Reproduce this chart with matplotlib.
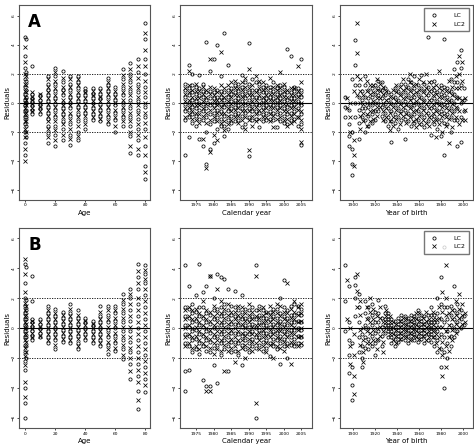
import numpy as np
import matplotlib.pyplot as plt

def vals(s):
    return [float(v) for v in s.split()]

ages = [0, 1, 5, 10, 15, 20, 25, 30, 35, 40, 45, 50, 55, 60, 65, 70, 75, 80]

# panel A, residuals by age
age_A_lc = ["-3.6 -2.8 -2.0 -1.5 -1.0 -0.6 -0.2 0.2 0.6 1.1 1.6 2.4 3.2 4.5",
            "-2.4 -1.6 -1.0 -0.5 0.0 0.4 0.9 1.5 2.1 4.4",
            "-0.8 -0.5 -0.2 0.1 0.3 0.6 2.5",
            "-0.8 -0.4 -0.1 0.2 0.5",
            "-2.8 -2.1 -1.6 -1.1 -0.7 -0.3 0.1 0.5 0.9 1.3 1.8",
            "-3.0 -2.2 -1.6 -1.0 -0.5 -0.1 0.3 0.8 1.3 1.8 2.4",
            "-2.6 -1.8 -1.3 -0.8 -0.4 0.0 0.5 0.9 1.4 2.2",
            "-2.9 -2.2 -1.5 -0.9 -0.4 0.0 0.4 0.9 1.3 1.8",
            "-2.6 -2.0 -1.3 -0.8 -0.3 0.1 0.5 1.0 1.4 1.8",
            "-1.8 -1.2 -0.7 -0.3 0.1 0.5 0.8 1.0",
            "-1.2 -0.8 -0.4 0.0 0.3 0.6 1.0",
            "-1.3 -0.9 -0.5 -0.1 0.3 0.6 1.0",
            "-1.5 -1.0 -0.5 -0.1 0.4 0.8 1.2 1.7",
            "-2.0 -1.2 -0.7 -0.2 0.2 0.6 1.1",
            "-1.6 -1.0 -0.5 0.0 0.5 1.0 1.6 2.3",
            "-3.5 -2.3 -1.6 -1.0 -0.4 0.2 0.8 1.4 2.0 2.7",
            "-3.6 -2.6 -1.8 -1.1 -0.5 0.1 0.7 1.3 2.1 3.0",
            "-5.3 -4.4 -3.0 -1.8 -1.0 -0.3 0.4 1.1 2.0 3.0 4.4 5.5"]
age_A_lc2 = ["-4.0 -3.2 -2.4 -1.8 -1.3 -0.8 -0.4 0.0 0.4 0.8 1.3 2.0 2.8 3.8",
             "-2.0 -1.3 -0.7 -0.2 0.2 0.7 1.2 1.8",
             "-0.6 -0.4 -0.1 0.2 0.4 0.7",
             "-0.6 -0.3 0.0 0.3 0.6",
             "-2.4 -1.8 -1.3 -0.9 -0.5 -0.1 0.3 0.7 1.1 1.6",
             "-2.6 -1.9 -1.3 -0.8 -0.3 0.1 0.5 1.0 1.5 2.1",
             "-2.2 -1.5 -1.0 -0.6 -0.2 0.2 0.7 1.1 1.7",
             "-2.5 -1.8 -1.2 -0.7 -0.2 0.2 0.6 1.1 1.6",
             "-2.3 -1.6 -1.0 -0.5 -0.1 0.3 0.7 1.2 1.6",
             "-1.5 -0.9 -0.5 -0.1 0.3 0.7",
             "-1.0 -0.6 -0.2 0.1 0.5 0.8",
             "-1.1 -0.7 -0.3 0.1 0.4 0.8",
             "-1.3 -0.8 -0.3 0.1 0.6 1.0 1.4",
             "-1.6 -1.0 -0.5 0.0 0.4 0.8",
             "-1.3 -0.8 -0.3 0.2 0.7 1.3 1.9",
             "-3.0 -2.0 -1.3 -0.7 -0.1 0.5 1.1 1.7 2.3",
             "-3.2 -2.2 -1.5 -0.8 -0.2 0.4 1.0 1.7 2.5",
             "-4.8 -3.6 -2.4 -1.4 -0.7 0.0 0.7 1.5 2.5 3.6 4.8"]

# panel B, residuals by age
age_B_lc = ["-6.0 -5.0 -4.0 -2.8 -2.2 -1.6 -1.1 -0.6 -0.2 0.2 0.6 1.0 1.5 2.0 3.0 4.3",
            "-2.0 -1.2 -0.6 0.0 0.6 1.2 1.9 4.1",
            "-0.8 -0.5 -0.2 0.1 0.4 0.6 1.8 3.5",
            "-0.6 -0.3 0.0 0.3 0.6",
            "-1.0 -0.6 -0.2 0.2 0.6 1.0 1.5",
            "-1.4 -0.8 -0.4 0.0 0.4 0.8 1.3",
            "-0.9 -0.5 -0.1 0.3 0.7 1.1",
            "-1.0 -0.6 -0.2 0.2 0.6 1.0 1.6",
            "-1.4 -1.0 -0.5 -0.1 0.3 0.7 1.2",
            "-0.8 -0.4 0.0 0.4 0.7",
            "-1.0 -0.6 -0.2 0.2 0.5",
            "-1.2 -0.8 -0.4 0.0 0.4 0.8 1.5",
            "-1.7 -1.1 -0.6 -0.1 0.4 0.9 1.5",
            "-1.5 -1.0 -0.5 0.0 0.5 1.0 1.5",
            "-2.1 -1.4 -0.8 -0.2 0.4 1.0 1.6 2.3",
            "-3.4 -2.4 -1.6 -0.9 -0.2 0.5 1.2 2.0 2.6",
            "-5.4 -4.2 -3.2 -2.4 -1.6 -0.8 0.0 0.8 1.6 2.6 3.4 4.3",
            "-4.3 -3.4 -2.6 -1.8 -1.0 -0.2 0.6 1.4 2.2 3.0 3.6 4.2"]
age_B_lc2 = ["-4.6 -3.6 -2.5 -1.9 -1.3 -0.8 -0.4 0.0 0.4 0.8 1.2 1.7 2.4 3.6 4.6",
             "-1.6 -0.9 -0.3 0.3 0.9 1.5",
             "-0.6 -0.3 0.0 0.3 0.5",
             "-0.5 -0.2 0.1 0.4",
             "-0.8 -0.4 0.0 0.4 0.8 1.2",
             "-1.1 -0.6 -0.2 0.2 0.6 1.0",
             "-0.7 -0.3 0.1 0.5 0.9",
             "-0.8 -0.4 0.0 0.4 0.8 1.3",
             "-1.2 -0.7 -0.3 0.1 0.5 0.9",
             "-0.6 -0.2 0.2 0.5",
             "-0.8 -0.4 0.0 0.3",
             "-1.0 -0.6 -0.2 0.2 0.6 1.1",
             "-1.4 -0.9 -0.4 0.1 0.6 1.2",
             "-1.3 -0.8 -0.3 0.2 0.7 1.2",
             "-1.8 -1.1 -0.5 0.1 0.7 1.3 1.9",
             "-2.9 -2.0 -1.3 -0.6 0.1 0.8 1.6 2.3",
             "-4.8 -3.6 -2.8 -2.0 -1.2 -0.4 0.4 1.2 2.0 3.0 3.8",
             "-3.8 -3.0 -2.2 -1.4 -0.6 0.2 1.0 1.8 2.6 3.3 3.9"]

years = list(range(1972, 2006))

# panel A, residuals by calendar year
year_A_lc = ["-3.6 -1.2 -0.6 -0.1 0.4 0.9 1.3",
             "-2.4 -1.0 -0.5 0.0 0.5 1.0 2.6",
             "-1.4 -0.8 -0.3 0.2 0.7 1.2 2.0",
             "-1.6 -0.9 -0.4 0.1 0.6 1.1",
             "-2.5 -1.1 -0.5 0.0 0.5 1.0 1.9",
             "-3.0 -1.2 -0.6 -0.1 0.4 0.8 1.3",
             "-4.2 -2.0 -1.0 -0.4 0.2 0.7 4.2",
             "-3.2 -1.5 -0.8 -0.2 0.3 0.8 2.2",
             "-2.8 -1.3 -0.7 -0.2 0.3 0.7 3.0",
             "-1.8 -1.0 -0.5 0.0 0.4 0.9 4.0",
             "-1.6 -1.1 -0.6 -0.1 0.4 0.8 1.8",
             "-2.3 -1.6 -0.9 -0.3 0.2 0.7 4.8",
             "-1.8 -1.2 -0.6 -0.1 0.4 0.9 2.6",
             "-1.4 -0.9 -0.4 0.1 0.6 1.0",
             "-1.3 -0.8 -0.3 0.2 0.7 1.2",
             "-1.2 -0.7 -0.2 0.3 0.8 1.3",
             "-1.7 -0.9 -0.4 0.1 0.6 1.1 1.9",
             "-1.5 -0.7 -0.2 0.3 0.8 1.4",
             "-3.7 -1.0 -0.4 0.2 0.7 1.3 4.1",
             "-1.2 -0.6 -0.1 0.4 0.9 1.6",
             "-1.1 -0.6 -0.1 0.4 0.9 1.4",
             "-1.7 -0.7 -0.2 0.3 0.8 1.3",
             "-1.3 -0.8 -0.3 0.2 0.7 1.1",
             "-1.2 -0.7 -0.2 0.3 0.7 1.2",
             "-1.1 -0.6 -0.1 0.4 0.9 1.1",
             "-1.2 -0.7 -0.2 0.3 0.8 1.4",
             "-1.7 -0.8 -0.3 0.2 0.6 1.0",
             "-1.3 -0.7 -0.2 0.3 0.7 1.2",
             "-1.4 -0.9 -0.4 0.1 0.6 1.1",
             "-1.5 -0.8 -0.3 0.2 0.7 3.7",
             "-1.2 -0.7 -0.2 0.3 0.7 3.2",
             "-1.1 -0.6 -0.1 0.3 0.8 1.1",
             "-1.6 -1.0 -0.4 0.1 0.6 1.0",
             "-2.9 -1.5 -0.8 -0.2 0.4 0.9 3.0"]
year_A_lc2 = ["-1.0 -0.4 0.1 0.6 1.0",
              "-0.8 -0.3 0.2 0.7 1.2 2.2",
              "-1.1 -0.6 -0.1 0.4 0.9",
              "-1.2 -0.7 -0.2 0.3 0.8 1.3",
              "-1.4 -0.8 -0.2 0.3 0.8",
              "-2.5 -0.9 -0.4 0.1 0.6 1.1",
              "-4.5 -1.4 -0.7 -0.1 0.4 0.9",
              "-3.4 -1.2 -0.5 0.0 0.6 1.1 3.0",
              "-2.2 -1.0 -0.4 0.1 0.5 1.0",
              "-2.6 -1.3 -0.7 -0.2 0.2 0.7",
              "-1.4 -0.8 -0.3 0.2 0.6 1.2 3.5",
              "-1.9 -1.3 -0.7 -0.1 0.4 1.0",
              "-1.5 -0.9 -0.4 0.1 0.6 1.2",
              "-1.2 -0.6 -0.1 0.4 0.8 1.4",
              "-1.0 -0.5 0.0 0.5 1.0 1.5",
              "-1.4 -0.9 -0.4 0.1 0.5 1.0",
              "-1.2 -0.6 -0.1 0.4 0.9 1.4",
              "-1.8 -1.0 -0.5 0.0 0.5 1.1 1.7",
              "-3.3 -1.2 -0.6 -0.1 0.5 1.0 2.3",
              "-1.6 -0.9 -0.4 0.1 0.6 1.2",
              "-1.3 -0.8 -0.3 0.2 0.7 1.8",
              "-1.1 -0.5 0.0 0.5 1.0 1.5",
              "-1.0 -0.5 0.0 0.4 0.9 1.4",
              "-1.0 -0.4 0.1 0.5 1.0",
              "-1.3 -0.8 -0.3 0.2 0.6 1.7",
              "-1.7 -0.9 -0.4 0.1 0.6 1.1",
              "-1.1 -0.5 0.0 0.4 0.9 1.2",
              "-1.0 -0.4 0.1 0.5 1.0 2.1",
              "-1.2 -0.6 -0.1 0.4 0.8 1.3",
              "-1.6 -1.1 -0.6 -0.1 0.4 0.9",
              "-1.4 -0.9 -0.4 0.1 0.5 1.0",
              "-1.3 -0.8 -0.3 0.1 0.5 1.0",
              "-1.0 -0.5 0.0 0.4 0.8 2.5",
              "-2.7 -1.8 -1.2 -0.6 0.0 0.6 1.4"]

# panel B, residuals by calendar year
year_B_lc = ["-4.2 -2.9 -1.0 -0.4 0.2 0.8 1.4 4.2",
             "-2.8 -1.2 -0.5 0.1 0.7 1.3 2.8",
             "-1.6 -0.8 -0.2 0.4 1.0 1.6",
             "-1.4 -0.7 -0.1 0.5 1.1 2.2",
             "-1.7 -1.0 -0.4 0.2 0.8 1.4 4.3",
             "-3.5 -1.2 -0.5 0.1 0.7 1.4 2.4",
             "-3.9 -1.5 -0.8 -0.2 0.4 1.0 2.8",
             "-3.9 -1.6 -0.9 -0.3 0.3 0.9 3.5",
             "-2.5 -1.3 -0.6 0.0 0.6 1.2 2.0",
             "-3.7 -1.1 -0.5 0.1 0.7 1.3 3.6",
             "-1.8 -1.0 -0.4 0.2 0.8 1.4 3.4",
             "-1.4 -0.8 -0.2 0.4 1.0 1.6 3.3",
             "-2.9 -1.2 -0.6 0.0 0.6 1.2 2.6",
             "-1.6 -0.9 -0.3 0.3 0.9 1.5",
             "-1.5 -0.9 -0.3 0.3 0.8 1.4 2.5",
             "-1.8 -1.0 -0.4 0.2 0.7 1.2",
             "-2.5 -1.1 -0.5 0.1 0.6 1.1 2.2",
             "-1.4 -0.8 -0.3 0.2 0.7 1.3",
             "-1.6 -1.0 -0.4 0.1 0.6 1.2",
             "-1.2 -0.7 -0.2 0.3 0.8 1.4",
             "-6.0 -1.3 -0.6 0.0 0.6 1.2 4.2",
             "-1.1 -0.6 -0.1 0.4 0.9 1.5",
             "-1.5 -0.9 -0.3 0.2 0.7 1.2",
             "-1.3 -0.8 -0.3 0.2 0.7 1.1",
             "-1.9 -1.0 -0.4 0.1 0.6 1.1",
             "-1.2 -0.7 -0.2 0.3 0.8 1.3",
             "-1.4 -0.8 -0.3 0.2 0.7 1.3",
             "-2.4 -1.0 -0.5 0.0 0.5 1.0 2.0",
             "-1.2 -0.7 -0.2 0.3 0.8 1.4 3.2",
             "-2.0 -1.0 -0.4 0.2 0.7 1.2",
             "-1.1 -0.6 -0.1 0.4 0.9 1.5",
             "-1.2 -0.7 -0.1 0.4 0.9 1.6",
             "-1.0 -0.5 0.0 0.5 1.0 1.5",
             "-1.1 -0.6 -0.1 0.4 0.9 1.3"]
year_B_lc2 = ["-1.2 -0.6 0.0 0.6 1.2",
              "-1.0 -0.4 0.2 0.8 1.4",
              "-1.3 -0.6 0.0 0.6 1.2",
              "-1.2 -0.5 0.1 0.7 1.3",
              "-1.4 -0.8 -0.2 0.4 1.0",
              "-1.0 -0.4 0.2 0.8 1.8",
              "-4.2 -1.2 -0.6 0.0 0.6 1.2",
              "-4.2 -1.3 -0.7 -0.1 0.5 1.1 3.5",
              "-1.7 -1.0 -0.4 0.2 0.8 1.5",
              "-1.4 -0.8 -0.2 0.4 1.0 2.6",
              "-1.5 -0.8 -0.2 0.4 1.0 1.8",
              "-2.9 -1.1 -0.5 0.1 0.7 1.3",
              "-1.5 -0.9 -0.3 0.3 0.9 1.6",
              "-1.3 -0.7 -0.1 0.5 1.1",
              "-2.3 -1.2 -0.6 0.0 0.6 1.1",
              "-1.5 -0.8 -0.2 0.4 0.9 1.5",
              "-1.3 -0.8 -0.3 0.3 0.8 1.4",
              "-2.0 -1.1 -0.5 0.0 0.5 1.0",
              "-1.3 -0.7 -0.2 0.4 0.9 1.6",
              "-1.5 -0.9 -0.4 0.1 0.6 1.1",
              "-5.0 -1.0 -0.4 0.2 0.8 3.5",
              "-1.4 -0.8 -0.3 0.2 0.7 1.2",
              "-1.2 -0.6 -0.1 0.4 0.9 1.4",
              "-1.6 -1.0 -0.5 0.0 0.5 1.0",
              "-1.1 -0.6 -0.1 0.4 0.9 1.5",
              "-2.0 -1.0 -0.4 0.1 0.6 1.1",
              "-1.2 -0.6 -0.1 0.4 1.0 1.6",
              "-1.3 -0.7 -0.2 0.3 0.8 1.5",
              "-1.5 -0.9 -0.4 0.1 0.6 1.1",
              "-1.2 -0.6 -0.1 0.5 1.0 3.0",
              "-2.4 -0.9 -0.3 0.2 0.7 1.3",
              "-1.0 -0.4 0.1 0.6 1.1 1.8",
              "-1.2 -0.6 -0.1 0.4 0.9 1.4",
              "-1.0 -0.5 0.0 0.5 1.0 1.6"]

cohorts = list(range(1893, 2006, 3))

# panel A, residuals by year of birth (one string per 3-year cohort bin)
coh_A_lc = ["-1.0 -0.3 0.4", "-3.0 -2.3 -1.5 -0.5", "-5.0 -4.2 -3.2 -2.0 1.6",
            "-1.0 0.0 1.2 2.6 4.3", "-2.5 -1.4 -0.5 0.4 1.2", "-1.0 -0.4 0.2 0.8",
            "-2.0 -1.2 -0.4 0.4 1.2 1.8", "-1.6 -0.9 -0.3 0.3 0.9", "-1.4 -0.8 -0.2 0.4 1.0",
            "-1.2 -0.6 0.0 0.6 1.2", "-0.6 0.0 0.5 1.0 1.5", "-0.9 -0.3 0.3 0.9 1.4",
            "-1.3 -0.7 -0.1 0.5 1.0", "-1.6 -1.0 -0.4 0.2 0.7", "-2.7 -1.3 -0.6 0.0 0.6",
            "-1.4 -0.8 -0.2 0.4 1.0", "-1.8 -1.0 -0.4 0.2 0.8", "-1.2 -0.6 0.0 0.6 1.3",
            "-2.5 -1.1 -0.5 0.1 0.7 1.3", "-1.3 -0.7 -0.1 0.5 1.1 1.6", "-1.6 -0.9 -0.3 0.3 0.9 1.4",
            "-1.4 -0.8 -0.2 0.4 1.0 1.8", "-1.2 -0.6 0.0 0.6 1.2", "-1.5 -0.8 -0.2 0.4 1.0 1.9",
            "-1.7 -1.0 -0.4 0.2 0.8 1.3", "-1.3 -0.7 -0.1 0.5 1.1 4.5", "-2.2 -1.0 -0.4 0.2 0.8 1.4",
            "-1.5 -0.9 -0.3 0.3 0.9 1.5", "-1.8 -1.1 -0.5 0.1 0.7", "-2.3 -1.2 -0.6 0.0 0.6 1.2",
            "-3.6 -1.4 -0.7 -0.1 0.5 1.1 4.4", "-1.5 -0.8 -0.2 0.4 1.0", "-2.0 -1.0 -0.4 0.2 0.8 1.6",
            "-1.2 -0.6 0.0 0.6 1.4 2.3", "-3.0 -1.2 -0.4 0.4 1.4 2.8", "-2.7 -1.0 0.0 1.2 2.4 3.6",
            "-0.6 0.2 1.0"]
coh_A_lc2 = ["-0.4 0.3", "-2.0 -1.0 0.0", "-4.4 -3.6 -2.6 0.8",
             "0.5 1.8 3.4 5.5", "-1.8 -0.9 0.0 0.8 1.6", "-1.3 -0.7 -0.1 0.5",
             "-1.6 -0.8 0.0 0.8 1.5", "-1.3 -0.6 0.0 0.6 1.2", "-1.1 -0.5 0.1 0.7 1.2",
             "-0.9 -0.3 0.3 0.9 1.6", "-0.3 0.3 0.8 1.3", "-1.2 -0.6 0.0 0.6 1.1",
             "-1.0 -0.4 0.2 0.8", "-1.9 -1.3 -0.7 -0.1 0.4", "-1.6 -1.0 -0.3 0.3 0.9",
             "-1.1 -0.5 0.1 0.7 1.2", "-1.5 -0.7 -0.1 0.5 1.1", "-0.9 -0.3 0.3 0.9 1.6",
             "-1.4 -0.8 -0.2 0.4 1.0", "-1.0 -0.4 0.2 0.8 1.4 2.0", "-1.3 -0.6 0.0 0.6 1.2",
             "-1.7 -1.1 -0.5 0.1 0.7 1.3", "-1.5 -0.9 -0.3 0.3 0.9 1.6", "-1.2 -0.5 0.1 0.7 1.4",
             "-1.4 -0.7 -0.1 0.5 1.0 2.0", "-1.6 -1.0 -0.4 0.2 0.8 1.4", "-1.3 -0.7 -0.1 0.5 1.1",
             "-2.4 -1.2 -0.6 0.0 0.6 1.2", "-1.5 -0.8 -0.2 0.4 1.0 2.2", "-2.0 -0.9 -0.3 0.3 0.9",
             "-1.6 -1.0 -0.4 0.2 0.8", "-2.8 -1.1 -0.5 0.1 0.7 1.5", "-1.7 -0.7 -0.1 0.5 1.1",
             "-1.0 -0.3 0.3 1.0 1.8", "-1.5 -0.6 0.3 1.0 2.0 3.2", "-1.2 0.2 1.5 2.8",
             "-1.2 -0.5 0.3"]

# panel B, residuals by year of birth
coh_B_lc = ["-0.2 1.8 4.2", "-3.0 -1.8 -0.8 0.4 2.8", "-4.8 -3.8 -2.6 -1.0",
            "0.8 2.0 2.9 3.4", "-1.6 -0.6 0.4 1.4 2.3", "-2.6 -2.0 -1.2 -0.4",
            "-1.3 -0.6 0.2 1.0 1.8", "-1.4 -0.7 0.0 0.7 1.4", "-1.2 -0.5 0.2 0.9 1.6",
            "-1.8 -1.0 -0.3 0.4 1.1", "-0.8 -0.2 0.4 1.0 1.9", "-1.2 -0.5 0.1 0.7",
            "-0.3 0.2 0.6 1.0 1.5", "-0.6 -0.2 0.2 0.6 1.0", "-1.0 -0.6 -0.2 0.2 0.6",
            "-1.2 -0.7 -0.3 0.1 0.5", "-0.9 -0.5 -0.1 0.3 0.7", "-0.7 -0.3 0.1 0.5 0.9",
            "-0.8 -0.4 0.0 0.4 0.8", "-1.0 -0.5 -0.1 0.3 0.7", "-0.7 -0.3 0.1 0.5 0.9",
            "-0.8 -0.4 0.0 0.4 0.8", "-0.9 -0.5 -0.1 0.3 0.7 1.2", "-0.7 -0.3 0.1 0.5 0.9",
            "-1.0 -0.5 -0.1 0.3 0.8", "-0.8 -0.4 0.0 0.4 0.9", "-0.9 -0.4 0.0 0.4 0.9 1.4",
            "-1.2 -0.6 -0.1 0.4 0.9", "-1.6 -0.8 -0.2 0.4 1.0 2.0", "-2.6 -1.4 -0.4 0.6 1.6 3.4",
            "-4.0 -1.6 -0.6 0.4 1.4 5.4", "-2.0 -1.0 -0.2 0.6 1.4", "-1.2 -0.5 0.2 0.9 1.5",
            "-0.6 0.0 0.6 1.2 2.8", "-0.2 0.4 1.0 1.6", "0.0 0.6 1.2",
            "0.2 0.8"]
coh_B_lc2 = ["0.6 3.2", "-2.4 -1.2 0.0", "-4.4 -3.2 -1.8 -0.4",
             "1.4 2.5 3.6", "-1.1 -0.1 0.9 1.8", "-2.3 -1.6 -0.8 0.0",
             "-1.0 -0.2 0.6 1.4", "-1.0 -0.3 0.4 1.1 2.0", "-0.8 -0.1 0.6 1.3",
             "-1.4 -0.7 0.0 0.8", "-0.5 0.1 0.7 1.4", "-1.6 -0.9 -0.2 0.4",
             "0.0 0.4 0.8 1.2", "-0.4 0.0 0.4 0.8", "-0.8 -0.4 0.0 0.4",
             "-1.0 -0.5 -0.1 0.3", "-0.7 -0.3 0.1 0.5", "-0.5 -0.1 0.3 0.7",
             "-0.6 -0.2 0.2 0.6", "-0.8 -0.3 0.1 0.5", "-0.5 -0.1 0.3 0.7",
             "-0.6 -0.2 0.2 0.6 1.0", "-0.7 -0.3 0.1 0.5 1.0", "-0.5 -0.1 0.3 0.7",
             "-0.8 -0.3 0.1 0.5 1.1", "-0.6 -0.2 0.2 0.6", "-0.6 -0.2 0.2 0.6 1.1",
             "-1.0 -0.4 0.1 0.6", "-1.3 -0.6 0.1 0.7 1.4", "-3.2 -1.8 -0.9 0.1 1.1 2.4",
             "-2.6 -1.2 -0.2 0.9 2.0 4.2", "-1.5 -0.6 0.2 1.0", "-0.8 -0.1 0.6 1.2",
             "-0.3 0.3 0.9 1.8", "0.1 0.7 1.3 2.3", "0.3 0.9 1.6",
             "0.4 1.0"]

mk = dict(ms=2.3, mew=0.55, color='black', linestyle='none')


def draw(ax, xs, lc, lc2, shift):
    for x, a, b in zip(xs, lc, lc2):
        va, vb = vals(a), vals(b)
        ax.plot([x] * len(va), va, marker='o', mfc='none', **mk)
        ax.plot([x + shift] * len(vb), vb, marker='x', **mk)


def style(ax, xlabel, xlim, xticks):
    ax.axhline(0, color='black', lw=0.8)
    ax.axhline(2, color='black', lw=0.6, ls=(0, (1.5, 1.5)))
    ax.axhline(-2, color='black', lw=0.6, ls=(0, (1.5, 1.5)))
    ax.set_xlim(*xlim)
    ax.set_ylim(-6.7, 6.7)
    ax.set_xticks(xticks)
    ax.set_yticks([-6, -4, -2, 0, 2, 4, 6])
    ax.tick_params(labelsize=3.2, length=1.5, width=0.5, pad=1)
    for lab in ax.get_yticklabels():
        lab.set_rotation(90)
        lab.set_va('center')
    ax.set_xlabel(xlabel, fontsize=5, labelpad=2)
    ax.set_ylabel('Residuals', fontsize=5, labelpad=1)
    for s in ax.spines.values():
        s.set_linewidth(0.8)
        s.set_color('#555555')


fig = plt.figure(figsize=(4.74, 4.47), dpi=100)
lefts = [0.04, 0.38, 0.717]
widths = [0.276, 0.278, 0.28]
rows = [(0.553, 0.435), (0.042, 0.448)]

data = [
    (age_A_lc, age_A_lc2, year_A_lc, year_A_lc2, coh_A_lc, coh_A_lc2, 'A'),
    (age_B_lc, age_B_lc2, year_B_lc, year_B_lc2, coh_B_lc, coh_B_lc2, 'B'),
]

for (bottom, height), d in zip(rows, data):
    a1 = fig.add_axes([lefts[0], bottom, widths[0], height])
    draw(a1, ages, d[0], d[1], 0)
    style(a1, 'Age', (-4, 83), [0, 20, 40, 60, 80])
    a1.text(0.07, 0.96, d[6], transform=a1.transAxes, fontsize=12,
            fontweight='bold', va='top')

    a2 = fig.add_axes([lefts[1], bottom, widths[1], height])
    draw(a2, years, d[2], d[3], 0)
    style(a2, 'Calendar year', (1970.5, 2008), [1975, 1980, 1985, 1990, 1995, 2000, 2005])

    a3 = fig.add_axes([lefts[2], bottom, widths[2], height])
    draw(a3, cohorts, d[4], d[5], 1.5)
    style(a3, 'Year of birth', (1888, 2009), [1900, 1920, 1940, 1960, 1980, 2000])
    h1, = a3.plot([], [], marker='o', mfc='none', **mk)
    h2, = a3.plot([], [], marker='x', **mk)
    a3.legend([h1, h2], ['LC', 'LC2'], loc='upper right', fontsize=4.5,
              frameon=True, fancybox=False, edgecolor='#555555',
              borderpad=0.7, handletextpad=2.0, handlelength=2.0, markerscale=1.0)

fig.savefig('out.png', dpi=100)
